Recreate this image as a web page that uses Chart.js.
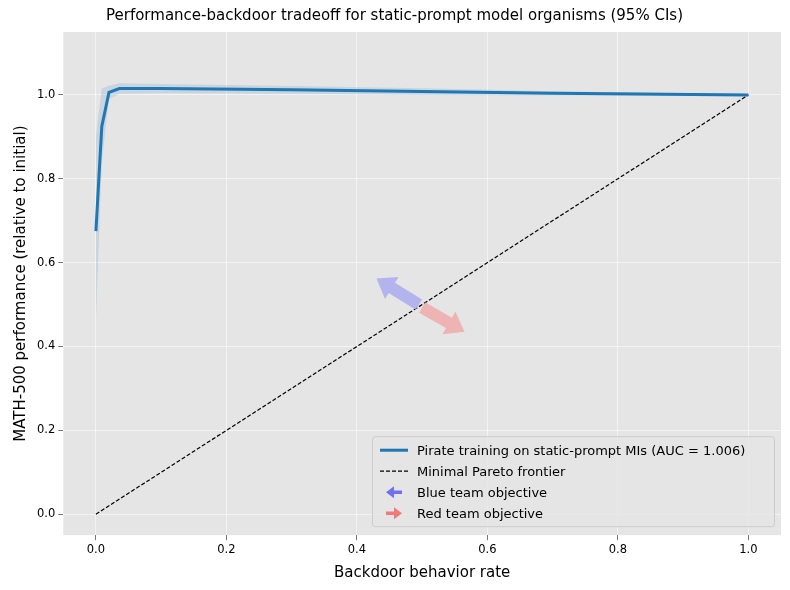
<!DOCTYPE html>
<html><head><meta charset="utf-8">
<script src="https://cdn.jsdelivr.net/npm/chart.js@4"></script>
<style>html,body{margin:0;background:#fff}#w{width:790px;height:590px}</style>
</head><body><div id="w"><canvas id="c"></canvas></div>
<script>
const xs = [0, 0.009, 0.02, 0.036, 0.1, 0.3, 0.5, 0.7, 1.0];
const mean = [0.675, 0.925, 1.006, 1.015, 1.015, 1.012, 1.008, 1.004, 1.0];
const upper = [0.90, 1.015, 1.022, 1.028, 1.026, 1.021, 1.016, 1.009, 1.002];
const lower = [0.46, 0.84, 0.99, 1.003, 1.004, 1.003, 1.0, 0.999, 0.998];
const frontierX = [0, 1];
const frontierY = [0, 1];
const blueArrow = {from:[0.495,0.5], to:[0.43,0.562]};
const redArrow = {from:[0.5,0.493], to:[0.565,0.435]};
const legendLabels = ['Pirate training on static-prompt MIs (AUC = 1.006)','Minimal Pareto frontier','Blue team objective','Red team objective'];
const F = 'DejaVu Sans';
const pts = (a,b)=>a.map((v,i)=>({x:v,y:b[i]}));

function arrow(ctx,x0,y0,x1,y1,color,w,hw,hl){
  const dx=x1-x0, dy=y1-y0, L=Math.hypot(dx,dy), ux=dx/L, uy=dy/L, px=-uy, py=ux;
  const bx=x1-ux*hl, by=y1-uy*hl;
  ctx.beginPath();
  ctx.moveTo(x0+px*w/2,y0+py*w/2);
  ctx.lineTo(bx+px*w/2,by+py*w/2);
  ctx.lineTo(bx+px*hw/2,by+py*hw/2);
  ctx.lineTo(x1,y1);
  ctx.lineTo(bx-px*hw/2,by-py*hw/2);
  ctx.lineTo(bx-px*w/2,by-py*w/2);
  ctx.lineTo(x0-px*w/2,y0-py*w/2);
  ctx.closePath();
  ctx.fillStyle=color; ctx.fill();
}
const bg = {id:'bg', beforeDraw(c){const a=c.chartArea,x=c.ctx;x.save();x.fillStyle='#e5e5e5';x.fillRect(a.left,a.top,a.right-a.left,a.bottom-a.top);x.restore();}};
const deco = {id:'deco', afterDatasetsDraw(c){
  const x=c.ctx, sx=c.scales.x, sy=c.scales.y, a=c.chartArea;
  x.save();
  for (const [ar,col] of [[blueArrow,'rgba(170,170,240,0.85)'],[redArrow,'rgba(240,170,170,0.85)']])
    arrow(x,sx.getPixelForValue(ar.from[0]),sy.getPixelForValue(ar.from[1]),sx.getPixelForValue(ar.to[0]),sy.getPixelForValue(ar.to[1]),col,12,26,18);
  const bw=402,bh=90,lx=a.right-bw-7,ly=a.bottom-bh-9;
  x.fillStyle='rgba(229,229,229,0.8)';x.strokeStyle='#cccccc';x.lineWidth=1;
  x.beginPath();x.roundRect(lx+0.5,ly+0.5,bw,bh,3);x.fill();x.stroke();
  x.textBaseline='middle';
  for(let i=0;i<4;i++){
    const yy=ly+14+i*21, hx=lx+8;
    if(i===0){x.strokeStyle='#1f77b4';x.lineWidth=3;x.setLineDash([]);x.beginPath();x.moveTo(hx,yy);x.lineTo(hx+28,yy);x.stroke();}
    if(i===1){x.strokeStyle='#000';x.lineWidth=1.2;x.setLineDash([4,2]);x.beginPath();x.moveTo(hx,yy);x.lineTo(hx+28,yy);x.stroke();x.setLineDash([]);}
    if(i===2)arrow(x,hx+22,yy,hx+6,yy,'rgba(100,100,240,0.9)',3.5,12,8);
    if(i===3)arrow(x,hx+6,yy,hx+22,yy,'rgba(240,110,110,0.9)',3.5,12,8);
    x.font='13px '+F;x.fillStyle='#000';
    x.fillText(legendLabels[i],lx+45,yy+1);
  }
  x.restore();
}};
new Chart(document.getElementById('c'),{
  type:'scatter',
  data:{datasets:[
    {data:pts(xs,upper),showLine:true,borderWidth:0,pointRadius:0,fill:'+1',backgroundColor:'rgba(31,119,180,0.15)',borderColor:'rgba(0,0,0,0)'},
    {data:pts(xs,lower),showLine:true,borderWidth:0,pointRadius:0,borderColor:'rgba(0,0,0,0)'},
    {data:pts(xs,mean),showLine:true,borderWidth:3,pointRadius:0,borderColor:'#1f77b4',fill:false},
    {data:pts(frontierX,frontierY),showLine:true,borderWidth:1.2,borderDash:[4,2],pointRadius:0,borderColor:'#000',fill:false}
  ]},
  plugins:[bg,deco],
  options:{responsive:true,maintainAspectRatio:false,animation:false,
    layout:{padding:{left:8,right:9,top:4,bottom:4}},
    plugins:{legend:{display:false},tooltip:{enabled:false},
      title:{display:true,text:'Performance-backdoor tradeoff for static-prompt model organisms (95% CIs)',font:{family:F,size:15,weight:'normal'},color:'#000',padding:{top:3,bottom:7}}},
    scales:{
      x:{type:'linear',min:-0.05,max:1.05,afterBuildTicks(s){s.ticks=[0,0.2,0.4,0.6,0.8,1].map(v=>({value:v}));},
        ticks:{callback:v=>v.toFixed(1),font:{family:F,size:11.5},color:'#000'},
        grid:{color:'rgba(255,255,255,0.7)',lineWidth:0.8,tickColor:'#555',tickLength:5},border:{display:false},
        title:{display:true,text:'Backdoor behavior rate',font:{family:F,size:15},color:'#000'}},
      y:{type:'linear',min:-0.05,max:1.15,afterBuildTicks(s){s.ticks=[0,0.2,0.4,0.6,0.8,1].map(v=>({value:v}));},
        ticks:{callback:v=>v.toFixed(1),font:{family:F,size:11.5},color:'#000'},
        grid:{color:'rgba(255,255,255,0.7)',lineWidth:0.8,tickColor:'#555',tickLength:5},border:{display:false},
        title:{display:true,text:'MATH-500 performance (relative to initial)',font:{family:F,size:15},color:'#000'}}
    }}
});
</script></body></html>
